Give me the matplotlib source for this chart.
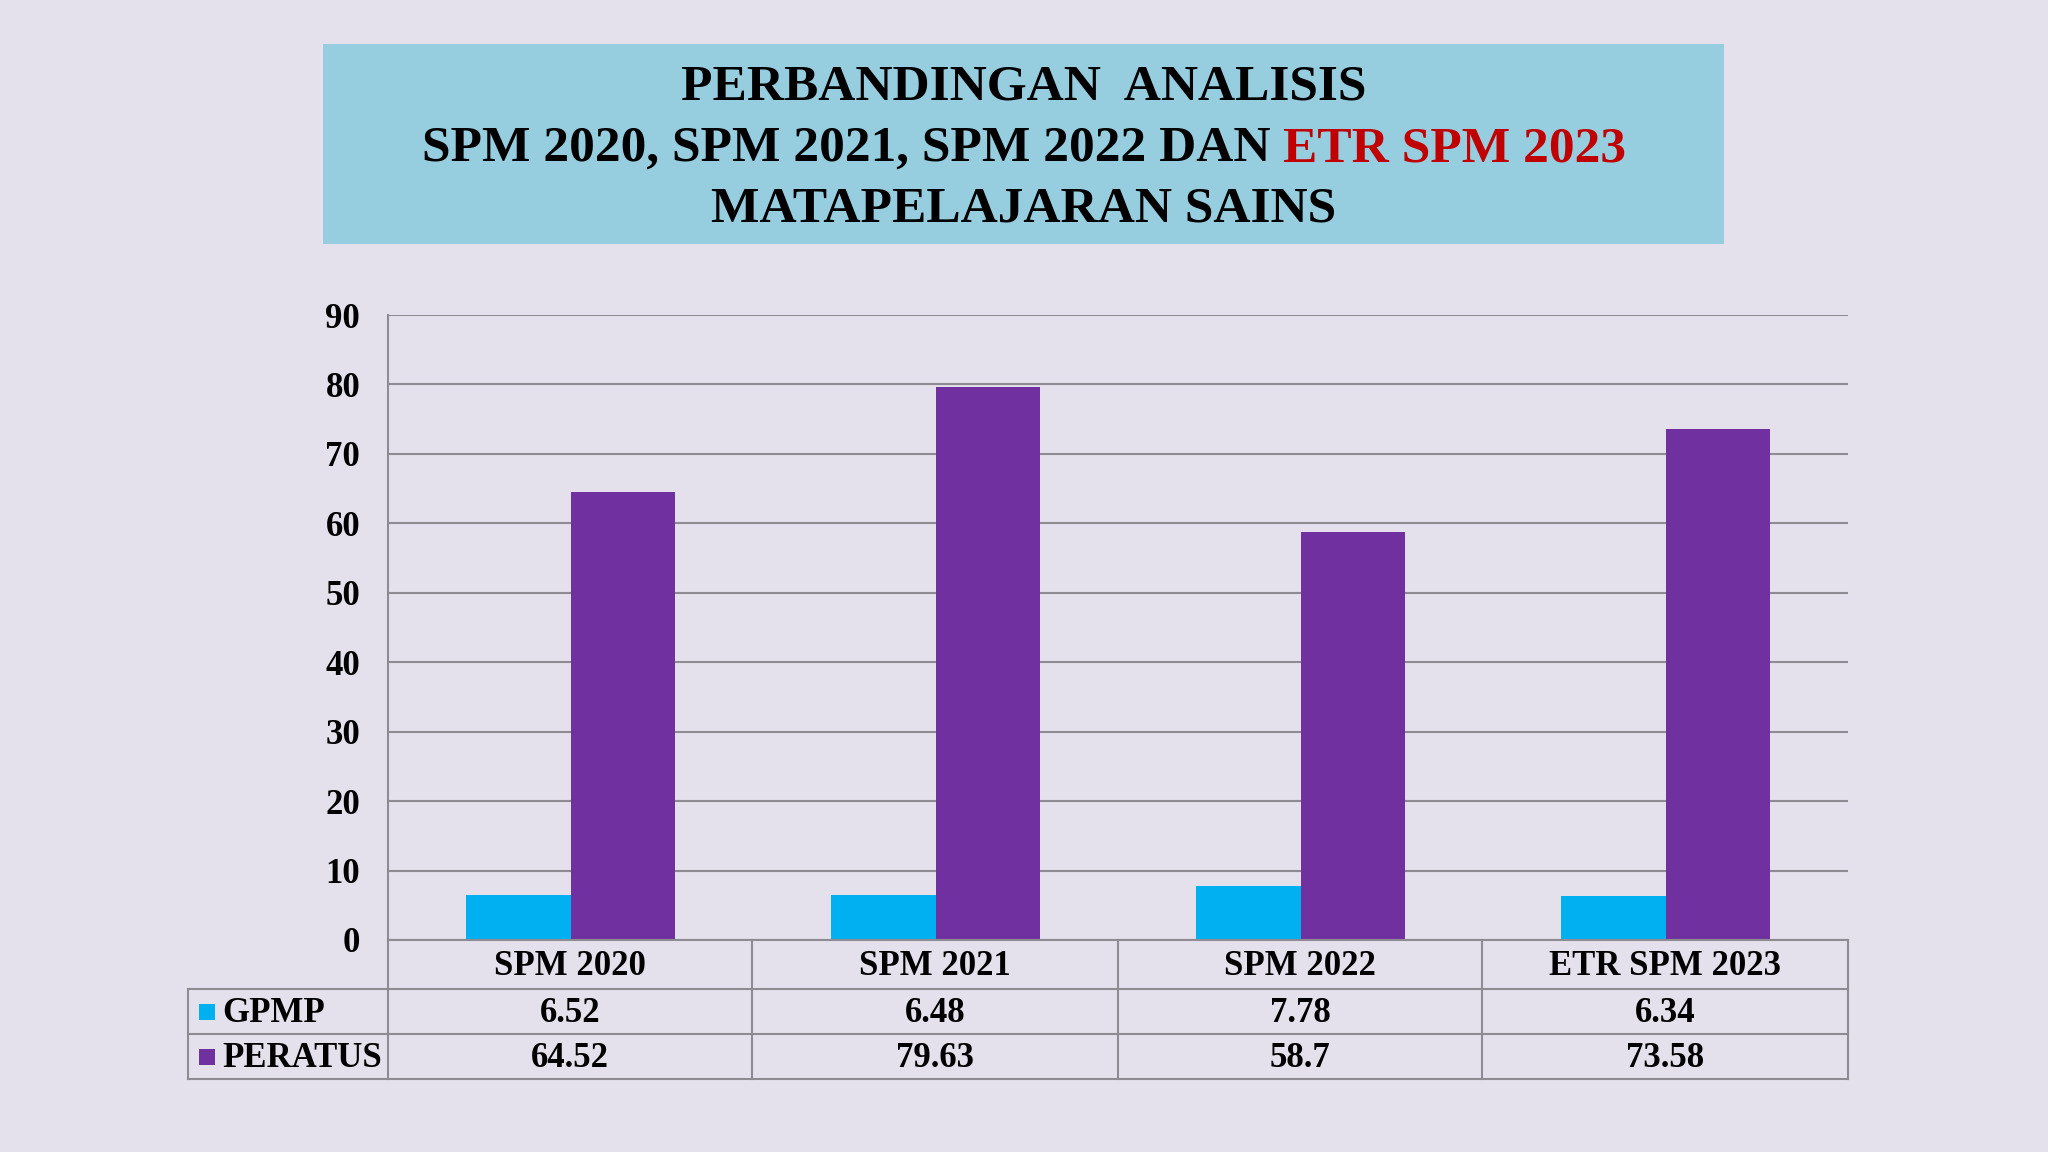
import numpy as np
import matplotlib
matplotlib.use('Agg')
import matplotlib.pyplot as plt
from matplotlib.patches import Rectangle
from matplotlib.lines import Line2D

# data
categories = ['SPM 2020', 'SPM 2021', 'SPM 2022', 'ETR SPM 2023']
series_names = ['GPMP', 'PERATUS']
gpmp = [6.52, 6.48, 7.78, 6.34]
peratus = [64.52, 79.63, 58.7, 73.58]
yticks = [0, 10, 20, 30, 40, 50, 60, 70, 80, 90]

W, H = 2048, 1152
BG = '#E4E0EC'
CYAN = '#00B0F0'
PURPLE = '#7030A0'
GRID = '#8E8C92'
FONT = 'Liberation Serif'

plt.rcParams['font.family'] = FONT
plt.rcParams['font.weight'] = 'bold'

fig = plt.figure(figsize=(W / 100, H / 100), dpi=100, facecolor=BG)


def fx(px):
    return px / W


def fy(py):
    return 1 - py / H


# title box
fig.add_artist(Rectangle((fx(323), fy(244)), fx(1724) - fx(323), fy(44) - fy(244),
                         transform=fig.transFigure, facecolor='#96CDDF', edgecolor='none'))
title_size = 37
fig.text(fx(1024), fy(88), 'PERBANDINGAN  ANALISIS', ha='center', va='center',
         fontsize=title_size, fontweight='bold', color='black')
fig.text(fx(1024), fy(210), 'MATAPELAJARAN SAINS', ha='center', va='center',
         fontsize=title_size, fontweight='bold', color='black')

# mixed-colour second title line
part1 = 'SPM 2020, SPM 2021, SPM 2022 DAN '
part2 = 'ETR SPM 2023'
renderer = fig.canvas.get_renderer()
t1 = fig.text(0, fy(149), part1, ha='left', va='center', fontsize=title_size,
              fontweight='bold', color='black')
t2 = fig.text(0, fy(149), part2, ha='left', va='center', fontsize=title_size,
              fontweight='bold', color='#C00000')
w1 = t1.get_window_extent(renderer).width
w2 = t2.get_window_extent(renderer).width
x0 = 1024 - (w1 + w2) / 2
t1.set_x(fx(x0))
t2.set_x(fx(x0 + w1))

# plot area
left, right, top, bottom = 388, 1848, 315, 940
ax = fig.add_axes([fx(left), fy(bottom), fx(right) - fx(left), fy(top) - fy(bottom)])
ax.set_facecolor(BG)
x = np.arange(len(categories))
bw = 0.286
ax.bar(x - bw / 2, gpmp, bw, color=CYAN, zorder=3)
ax.bar(x + bw / 2, peratus, bw, color=PURPLE, zorder=3)
ax.set_xlim(-0.5, len(categories) - 0.5)
ax.set_ylim(0, 90)
ax.set_yticks(yticks)
ax.set_yticklabels([str(v) for v in yticks], fontsize=25, fontweight='bold')
ax.tick_params(axis='y', length=0, pad=20)
ax.set_xticks([])
ax.yaxis.grid(True, color=GRID, linewidth=1.5, zorder=0)
for s in ['top', 'right', 'bottom']:
    ax.spines[s].set_visible(False)
ax.spines['left'].set_color(GRID)
ax.spines['left'].set_linewidth(1.5)

# table under the chart
row_edges = [940, 989, 1034, 1079]
col_edges = [388, 752, 1118, 1482, 1848]
leg_left = 188


def hline(y, x1, x2):
    fig.add_artist(Line2D([fx(x1), fx(x2)], [fy(y), fy(y)], transform=fig.transFigure,
                          color=GRID, linewidth=1.5))


def vline(x, y1, y2):
    fig.add_artist(Line2D([fx(x), fx(x)], [fy(y1), fy(y2)], transform=fig.transFigure,
                          color=GRID, linewidth=1.5))


hline(row_edges[0], col_edges[0], col_edges[-1])
for y in row_edges[1:]:
    hline(y, leg_left, col_edges[-1])
for xe in col_edges:
    vline(xe, row_edges[0], row_edges[-1])
vline(leg_left, row_edges[1], row_edges[-1])

tsize = 25
for i, cat in enumerate(categories):
    cx = (col_edges[i] + col_edges[i + 1]) / 2
    fig.text(fx(cx), fy((row_edges[0] + row_edges[1]) / 2 + 2), cat, ha='center', va='center',
             fontsize=tsize, fontweight='bold')
    for r, vals in enumerate([gpmp, peratus]):
        fig.text(fx(cx), fy((row_edges[r + 1] + row_edges[r + 2]) / 2 + 2), str(vals[i]),
                 ha='center', va='center', fontsize=tsize, fontweight='bold')

for r, (name, col) in enumerate(zip(series_names, [CYAN, PURPLE])):
    cy = (row_edges[r + 1] + row_edges[r + 2]) / 2
    fig.add_artist(Rectangle((fx(199), fy(cy + 8)), fx(16), fy(cy - 8) - fy(cy + 8),
                             transform=fig.transFigure, facecolor=col, edgecolor='none'))
    fig.text(fx(222), fy(cy + 2), name, ha='left', va='center', fontsize=tsize, fontweight='bold')

fig.savefig('out.png', dpi=100, facecolor=BG)
